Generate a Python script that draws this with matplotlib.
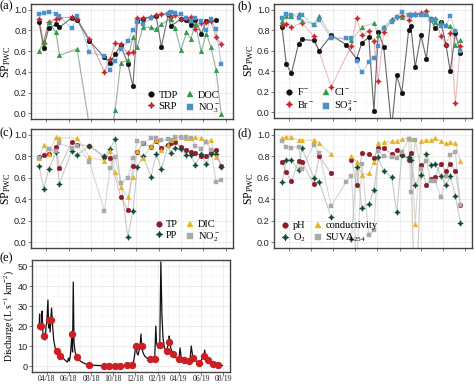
import numpy as np
import pandas as pd
import matplotlib
matplotlib.use('Agg')
import matplotlib.pyplot as plt
import matplotlib.dates as mdates

nan = np.nan

plt.rcParams['font.family'] = ['Liberation Serif', 'DejaVu Serif']
plt.rcParams['mathtext.fontset'] = 'custom'
plt.rcParams['mathtext.rm'] = 'Liberation Serif'
plt.rcParams['mathtext.it'] = 'Liberation Serif:italic'
plt.rcParams['mathtext.bf'] = 'Liberation Serif:bold'

# ---------------------------------------------------------------- data ----
# sampling dates used for SP_PWC panels (a)-(d)
sp_dates = pd.to_datetime([
    '2018-03-13', '2018-03-25', '2018-04-08', '2018-04-28', '2018-05-07',
    '2018-06-09', '2018-06-24', '2018-07-27', '2018-09-06', '2018-09-21',
    '2018-10-05', '2018-10-20', '2018-11-08', '2018-11-22', '2018-12-04',
    '2018-12-19', '2019-01-10', '2019-01-24', '2019-02-07', '2019-02-26',
    '2019-03-04', '2019-03-16', '2019-04-01', '2019-04-16', '2019-04-28',
    '2019-05-10', '2019-05-26', '2019-06-09', '2019-06-21', '2019-07-05',
    '2019-07-19'])

# (a)
tdp = [0.88, 0.63, 0.82, 0.86, 0.83, 0.92, 0.90, 0.70, 0.54, 0.49, 0.57, 0.66, 0.48, 0.26, 0.89, 0.91,
       nan, 0.94, 0.64, 0.96, 0.84, nan, 0.91, 0.90, 0.85, 0.90, 0.77, 0.89, nan, 0.90, nan]
srp = [0.91, 0.68, 0.88, 0.91, 0.92, 0.93, 0.91, 0.72, 0.40, 0.52, 0.68, 0.67, 0.58, 0.59, 0.92, 0.92,
       0.93, 0.95, 0.96, 0.97, 0.93, 0.95, 0.91, 0.92, 0.93, 0.81, 0.87, 0.88, 0.89, 0.74, 0.67]
doc = [0.60, 0.69, 0.88, 0.78, 0.56, nan, 0.62, -0.12, -0.50, -0.24, 0.03, 0.49, 0.51, 0.74, 0.64, 0.83,
       0.83, 0.81, 0.86, nan, 0.91, 0.82, 0.61, 0.78, 0.72, 0.86, 0.60, 0.77, 0.64, 0.42, -0.01]
no3 = [0.96, 0.97, 0.98, 0.96, 0.94, 0.82, 0.94, 0.59, 0.55, 0.42, 0.50, 0.62, 0.70, 0.80, 0.88, 0.86,
       0.92, nan, nan, 0.96, 0.98, 0.97, 0.96, 0.92, 0.89, 0.92, 0.89, 0.80, 0.91, 0.81, 0.48]

# (b)
fluoride = [0.83, 0.47, 0.38, 0.67, 0.71, 0.70, 0.60, 0.75, 0.66, nan, 0.52, 0.68, 0.73, 0.01, 0.78, 0.64,
            -0.15, 0.36, 0.19, 0.80, 0.84, 0.44, 0.75, 0.52, 0.91, 0.82, 0.88, 0.66, 0.40, 0.77, 0.58]
bromide = [0.85, 0.86, 0.83, nan, 0.87, 0.74, nan, 0.25, nan, 0.65, 0.92, 0.75, 0.79, 0.69, 0.31, 0.78,
           0.90, 0.93, 0.94, 0.90, 0.95, 0.96, 0.97, 0.99, 0.91, 0.91, 0.74, 0.66, 0.77, 0.09, 0.65]
chloride = [0.89, 0.94, 0.94, 0.96, 0.89, 0.86, 0.94, 0.74, nan, 0.70, nan, 0.83, nan, 0.87, 0.75, 0.83,
            0.91, nan, 0.93, 0.96, nan, 0.96, 0.96, 0.96, 0.91, 0.88, 0.88, 0.85, 0.84, 0.66, 0.70]
sulfate = [0.92, 0.96, 0.95, 0.92, 0.95, 0.85, 0.90, 0.72, 0.72, 0.72, 0.50, 0.39, 0.49, 0.53, 0.65, 0.82,
           0.88, 0.93, 0.98, 0.95, 0.95, 0.95, 0.95, 0.95, 0.90, 0.90, 0.84, 0.84, 0.94, 0.79, 0.60]

# (c)
tp = [0.79, 0.81, 0.82, 0.89, 0.69, 0.93, 0.91, 0.90, 0.79, 0.78, nan, 0.42, 0.30, 0.71, 0.84, 0.92,
      0.89, 0.94, 0.88, 0.91, 0.92, 0.93, 0.89, 0.86, 0.84, 0.83, 0.80, 0.80, 0.84, 0.86, 0.71]
pp = [0.71, 0.50, 0.68, 0.84, 0.54, 0.85, 0.81, 0.90, 0.80, 0.87, 0.96, nan, 0.05, 0.29, 0.70, 0.80,
      0.61, 0.82, 0.68, 0.91, 0.83, 0.88, 0.87, 0.81, 0.81, 0.72, 0.82, 0.73, 0.82, 0.82, 0.70]
dic = [0.78, 0.91, 0.82, 0.98, 0.97, nan, 0.97, 0.79, 0.76, 0.85, 0.65, 0.51, 0.42, 0.61, 0.85, 0.78,
       0.90, 0.95, 0.86, 0.91, 0.95, 0.97, 0.98, 0.97, 0.97, 0.98, 0.97, 0.94, 0.95, 0.79, nan]
no2 = [0.78, nan, 0.87, 0.85, 0.92, 0.88, 0.90, 0.75, 0.29, 0.69, 0.79, 0.55, 0.60, 0.78, 0.94, 0.92,
       0.97, 0.97, 0.95, 0.96, 0.95, 0.98, 0.98, 0.98, 0.97, 0.90, 0.87, 0.93, 0.86, 0.56, 0.58]

# (d)  (nan in slot 8 = gap in the record)
ph = [0.75, 0.65, 0.57, 0.76, 0.75, 0.54, 0.80, 0.64, nan, 0.77, 0.53, 0.83, 0.82, 0.78, 0.88, 0.88,
      0.82, 0.86, 0.81, 0.77, 0.83, -0.80, 0.72, 0.53, 0.59, 0.61, 0.73, 0.66, 0.73, 0.66, 0.35]
o2 = [0.56, 0.77, 0.77, 0.67, 0.88, 0.60, 0.56, 0.23, nan, 0.03, 0.70, 0.32, 0.36, 0.49, 0.79, 0.66,
      0.61, 0.28, 0.81, 0.79, 0.77, 0.53, 0.63, 0.82, 0.72, 0.73, 0.62, 0.53, 0.62, 0.43, 0.18]
cond = [0.97, 0.98, 0.98, 0.95, 0.95, 0.95, 0.92, 0.82, nan, 0.80, 0.75, 0.63, 0.64, 0.75, 0.92, 0.93,
        0.94, 0.94, 0.96, 0.97, 0.96, 0.17, 0.94, 0.95, 0.95, 0.97, 0.94, 0.92, 0.93, 0.92, 0.76]
suva = [0.94, 0.89, 0.88, 0.89, 0.68, 0.91, 0.83, 0.34, 0.56, 0.62, -0.20, 0.73, 0.07, 0.11, 0.85, 0.80,
        0.79, 0.78, 0.84, 0.96, 0.47, 0.95, 0.68, 0.76, 0.57, 0.57, 0.42, 0.62, 0.81, 0.84, 0.35]

# (e) discharge hydrograph and discharge at sampling
q_line_dates = pd.to_datetime([
    '2018-03-09', '2018-03-11', '2018-03-12', '2018-03-13', '2018-03-15', '2018-03-17', '2018-03-19',
    '2018-03-21', '2018-03-23', '2018-03-25', '2018-03-27', '2018-03-30', '2018-04-01', '2018-04-04',
    '2018-04-06', '2018-04-08', '2018-04-10', '2018-04-12', '2018-04-14', '2018-04-17', '2018-04-20',
    '2018-04-24', '2018-04-28', '2018-05-03', '2018-05-07', '2018-05-12', '2018-05-18', '2018-05-24',
    '2018-05-28', '2018-05-31', '2018-06-02', '2018-06-05', '2018-06-07', '2018-06-09', '2018-06-11',
    '2018-06-13', '2018-06-15', '2018-06-18', '2018-06-21', '2018-06-24', '2018-06-29', '2018-07-06',
    '2018-07-15', '2018-07-27', '2018-08-15', '2018-09-06', '2018-10-20', '2018-11-22', '2018-11-26',
    '2018-11-29', '2018-12-02', '2018-12-04', '2018-12-06', '2018-12-09', '2018-12-12', '2018-12-15',
    '2018-12-17', '2018-12-19', '2018-12-22', '2018-12-27', '2019-01-02', '2019-01-10', '2019-01-17',
    '2019-01-21', '2019-01-24', '2019-01-27', '2019-01-29', '2019-01-31', '2019-02-03', '2019-02-07',
    '2019-02-10', '2019-02-13', '2019-02-16', '2019-02-20', '2019-02-26', '2019-03-01', '2019-03-04',
    '2019-03-05', '2019-03-09', '2019-03-16', '2019-03-24', '2019-04-01', '2019-04-04', '2019-04-07',
    '2019-04-16', '2019-04-24', '2019-04-28', '2019-05-01', '2019-05-05', '2019-05-08', '2019-05-10',
    '2019-05-18', '2019-05-26', '2019-06-02', '2019-06-06', '2019-06-09', '2019-06-11', '2019-06-14',
    '2019-06-21', '2019-06-26', '2019-07-05', '2019-07-19', '2019-07-30'])
q_line = [19, 21, 26, 20, 18, 20, 27.5,
          17, 14, 15, 13, 20, 22, 33,
          19, 23, 17, 23, 29, 20, 13,
          9, 7.5, 6, 5, 4.5, 3.5, 2.5,
          2, 4, 2.5, 5, 10, 16, 7,
          42, 12, 7, 5.5, 4.5, 3, 2,
          1.2, 0.5, 0.3, 0.1, 0.1, 0.3, 1.5,
          5, 9, 10, 6.5, 5.5, 8, 11,
          16, 10, 7, 5, 4, 3.5, 3,
          4.5, 3.5, 20, 12, 10, 9, 10.5,
          52, 25, 14, 9, 7.5, 10, 12,
          15, 9, 6, 4, 3.5, 9, 4.5,
          3, 2.5, 2.5, 2, 10, 6, 4,
          2.5, 1.5, 3, 5, 5, 8, 4,
          3, 2, 1, 0.5, 0.3]

q_dates = pd.to_datetime([
    '2018-03-13', '2018-03-17', '2018-03-25', '2018-04-08', '2018-04-12', '2018-04-28', '2018-05-07',
    '2018-06-09', '2018-06-24', '2018-07-27', '2018-09-06', '2018-09-21', '2018-10-05', '2018-10-20',
    '2018-11-08', '2018-11-22', '2018-12-04', '2018-12-19', '2019-01-10', '2019-01-24', '2019-02-07',
    '2019-02-26', '2019-03-04', '2019-03-16', '2019-04-01', '2019-04-16', '2019-04-28', '2019-05-10',
    '2019-05-26', '2019-06-09', '2019-06-21', '2019-07-05', '2019-07-19'])
q_sample = [20, 20, 15, 23, 23, 7.5, 5, 16, 4.5, 0.5, 0.1, 0.1, 0.1, 0.2, 0.3, 0.3, 10, 10, 3.5, 3.5,
            10.5, 7.5, 12, 6, 3.5, 3, 2.5, 4, 1.5, 5, 3, 1, 0.5]

# ------------------------------------------------------------- styling ----
W, H = 474, 384
fig = plt.figure(figsize=(W / 100, H / 100), dpi=100)
xlim = (pd.Timestamp('2018-02-19'), pd.Timestamp('2019-08-20'))

BLACK = '#111111'
RED = '#c8242b'
GREEN = '#2e9b4a'
BLUE = '#4b92cc'
MAROON = '#8e1b2a'
DKGREEN = '#0f4a33'
GOLD = '#e8b21c'
GREY = '#a9a9a9'
STAR = (4, 1, 0)


def px_axes(l, t, r, b):
    return fig.add_axes([l / W, 1 - b / H, (r - l) / W, (b - t) / H])


def style(ax, ylabel=None, ysize=8.5):
    ax.set_xlim(*xlim)
    ax.xaxis.set_major_locator(mdates.MonthLocator(bymonth=[2, 4, 6, 8, 10, 12]))
    ax.xaxis.set_minor_locator(mdates.MonthLocator(bymonth=[1, 3, 5, 7, 9, 11]))
    ax.xaxis.set_major_formatter(mdates.DateFormatter('%m/%y'))
    ax.grid(True, which='major', color='#e6e6e6', lw=0.5)
    ax.grid(True, which='minor', color='#f3f3f3', lw=0.4)
    ax.set_axisbelow(True)
    for s in ax.spines.values():
        s.set_color('#444444')
        s.set_linewidth(1.0)
    ax.tick_params(which='major', length=2, width=0.5, color='#444444', pad=1,
                   labelsize=6.6, labelcolor='#222222')
    ax.tick_params(which='minor', length=0)
    for lab in ax.get_yticklabels():
        lab.set_family('Liberation Sans')
    if ylabel:
        ax.set_ylabel(ylabel, fontsize=ysize, labelpad=1)


def sp_axes(ax):
    ax.set_ylim(-0.055, 1.055)
    ax.set_yticks([0.0, 0.2, 0.4, 0.6, 0.8, 1.0])
    ax.set_yticks([0.1, 0.3, 0.5, 0.7, 0.9], minor=True)
    ax.set_yticklabels(['0.0', '0.2', '0.4', '0.6', '0.8', '1.0'])
    style(ax, r'SP$_{\mathregular{PWC}}$')
    ax.set_xticklabels([])


def series(ax, y, color, marker, label, ms=3.4, lcolor=None, lalpha=0.45, connect=True):
    y = np.array(y, dtype=float)
    x = np.array(sp_dates)
    if connect:
        m = ~np.isnan(y)
        ax.plot(x[m], y[m], color=lcolor or color, alpha=lalpha, lw=0.8, zorder=2)
    else:
        ax.plot(x, y, color=lcolor or color, alpha=lalpha, lw=0.8, zorder=2)
    return ax.plot(x, y, ls='none', marker=marker, ms=ms, color=color, mec=color,
                   mew=0.3, label=label, zorder=3)[0]


def legend(ax, loc, anchor):
    ax.legend(loc=loc, bbox_to_anchor=anchor, ncol=2, frameon=False, fontsize=7.5,
              handlelength=0.8, handletextpad=0.3, columnspacing=0.8,
              labelspacing=0.15, borderpad=0.2, markerscale=1.2)


# (a)
ax = px_axes(31, 4, 233, 119)
sp_axes(ax)
series(ax, tdp, BLACK, 'o', 'TDP', lcolor='#333333', lalpha=0.7)
series(ax, srp, RED, STAR, 'SRP', ms=4.2)
series(ax, doc, GREEN, '^', 'DOC', lcolor='#6d8f74', lalpha=0.7)
series(ax, no3, BLUE, 's', r'NO$_3^-$')
legend(ax, 'lower right', (0.97, -0.03))

# (b)
ax = px_axes(274, 4, 472, 118)
sp_axes(ax)
series(ax, fluoride, BLACK, 'o', r'F$^-$', lcolor='#333333', lalpha=0.75)
series(ax, bromide, RED, STAR, r'Br$^-$', ms=4.2, lalpha=0.3)
series(ax, chloride, GREEN, '^', r'Cl$^-$', lcolor='#999999', lalpha=0.5)
series(ax, sulfate, BLUE, 's', r'SO$_4^{2-}$', lcolor='#aaaaaa', lalpha=0.5)
legend(ax, 'lower left', (0.02, -0.03))

# (c)
ax = px_axes(31, 129, 233, 248)
sp_axes(ax)
series(ax, tp, MAROON, 'o', 'TP', lcolor='#b0a0a0', lalpha=0.6)
series(ax, pp, DKGREEN, STAR, 'PP', ms=4.2, lcolor='#a0aaa5', lalpha=0.6)
series(ax, dic, GOLD, '^', 'DIC', lcolor='#c8bfa5', lalpha=0.6)
series(ax, no2, GREY, 's', r'NO$_2^-$', lcolor='#bbbbbb', lalpha=0.6)
legend(ax, 'lower right', (0.97, -0.03))

# (d)
ax = px_axes(274, 129, 472, 248)
sp_axes(ax)
series(ax, ph, MAROON, 'o', 'pH', lcolor='#b0a0a0', lalpha=0.6, connect=False)
series(ax, o2, DKGREEN, STAR, r'O$_2$', ms=4.2, lcolor='#a0aaa5', lalpha=0.6, connect=False)
series(ax, cond, GOLD, '^', 'conductivity', lcolor='#c8bfa5', lalpha=0.6, connect=False)
series(ax, suva, GREY, 's', r'SUVA$_{\mathregular{254}}$', lcolor='#bbbbbb', lalpha=0.6, connect=False)
legend(ax, 'lower left', (0.0, -0.03))

# (e)
ax = px_axes(32, 260, 230, 372)
ax.plot(q_line_dates, q_line, color='#111111', lw=0.9, zorder=2)
ax.plot(q_dates, q_sample, ls='none', marker='o', ms=4.3, color='#cc1f24', zorder=3)
ax.set_ylim(-3, 53)
ax.set_yticks([0, 10, 20, 30, 40, 50])
ax.set_yticks([5, 15, 25, 35, 45], minor=True)
style(ax, r'Discharge (L s$^{\mathregular{-1}}$ km$^{\mathregular{-2}}$)', ysize=7)
ax.tick_params(axis='x', labelsize=5.6, pad=0.5)
for lab in ax.get_xticklabels():
    lab.set_family('Liberation Serif')

# panel letters
for lbl, x, y in [('(a)', 0, 0), ('(b)', 238, 0), ('(c)', 0, 127), ('(d)', 238, 127), ('(e)', 0, 252)]:
    fig.text(x / W, 1 - y / H, lbl, ha='left', va='top', fontsize=9)

fig.savefig('out.png', dpi=100)
